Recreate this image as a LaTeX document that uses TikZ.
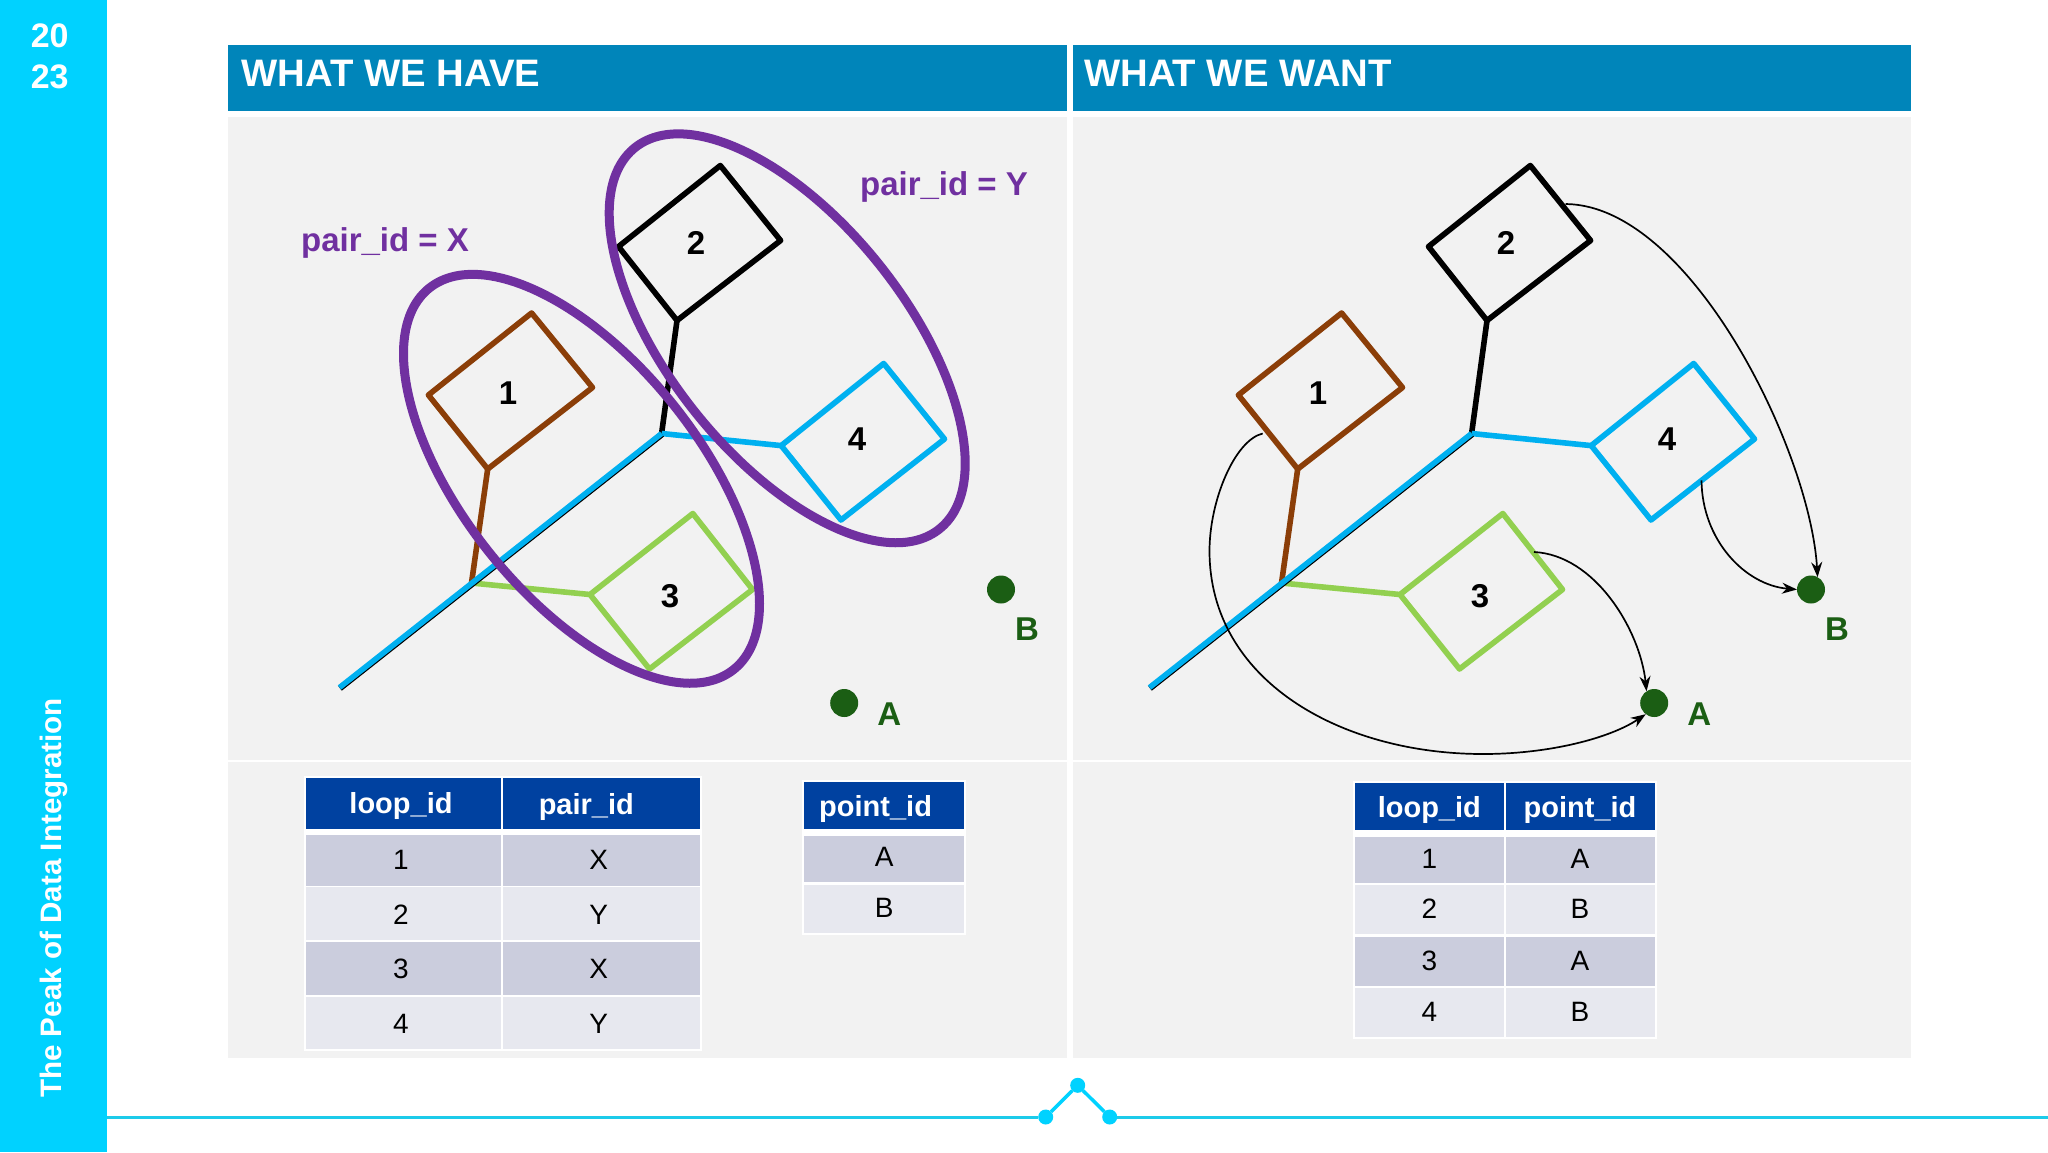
\documentclass[tikz,border=0pt]{standalone}
\usepackage{fontspec}
\setmainfont{Liberation Sans}
\usetikzlibrary{arrows.meta}
\definecolor{side}{HTML}{00D2FF}
\definecolor{bar}{HTML}{0085BA}
\definecolor{panel}{HTML}{F2F2F2}
\definecolor{hdr}{HTML}{0041A0}
\definecolor{rowa}{HTML}{CBCDDD}
\definecolor{rowb}{HTML}{E7E8EF}
\definecolor{rule}{HTML}{1CCBEA}
\definecolor{lbrown}{HTML}{8B3E08}
\definecolor{lgreen}{HTML}{92D050}
\definecolor{lblue}{HTML}{00B0F0}
\definecolor{lpurple}{HTML}{7030A0}
\definecolor{dgreen}{HTML}{1B5E14}
\newcommand\fs[1]{\fontsize{#1}{#1}\selectfont}
\newcommand\tabcell[5]{\fill[#5] (#1,#2) rectangle (#3,#4);}
\newcommand\looptree{%
  \coordinate (a1) at (531.6,313); \coordinate (a2) at (592.5,387.5); \coordinate (a3) at (487.7,469); \coordinate (a4) at (428.4,395);
  \coordinate (b1) at (720.3,165.5); \coordinate (b2) at (780.6,240.5); \coordinate (b3) at (677,320.5); \coordinate (b4) at (618.5,246.6);
  \coordinate (c1) at (692.8,513.5); \coordinate (c2) at (752.5,589.5); \coordinate (c3) at (649.5,669); \coordinate (c4) at (590,594.5);
  \coordinate (d1) at (883.7,363.5); \coordinate (d2) at (944.5,439); \coordinate (d3) at (841,520); \coordinate (d4) at (781.2,445.6);
  \coordinate (start) at (339.5,687.5); \coordinate (j1) at (471.5,583); \coordinate (j2) at (661.6,433.5);
  \draw[wire,lbrown] (a3) -- (j1);
  \draw[wire,black] (b3) -- (j2);
  \draw[wire,lgreen] (j1) -- (c4);
  \draw[wire,lblue] (j2) -- (d4);
  \draw[black,line width=5.5pt,line join=round] ([shift={(0.6,1)}]start) -- ([shift={(0.6,1)}]j2);
  \draw[lblue,line width=5.5pt,line join=round] (start) -- (j2);
  \draw[wire,lbrown] (a1) -- (a2) -- (a3) -- (a4) -- cycle;
  \draw[wire,black] (b1) -- (b2) -- (b3) -- (b4) -- cycle;
  \draw[wire,lgreen] (c1) -- (c2) -- (c3) -- (c4) -- cycle;
  \draw[wire,lblue] (d1) -- (d2) -- (d3) -- (d4) -- cycle;
  \node[digit] (n1) at (508,393) {1};
  \node[digit] (n2) at (696,242.5) {2};
  \node[digit] (n3) at (670,596) {3};
  \node[digit] (n4) at (857,439.5) {4};
  \node[dot] (dotA) at (844.2,703) {};
  \node[dot] (dotB) at (1001,589.5) {};
  \node[ptlabel] (labA) at (889.3,714.5) {A};
  \node[ptlabel] (labB) at (1027,629) {B};
}
\tikzset{
  wire/.style={line width=5.6pt,line join=round},
  digit/.style={font=\fs{33}\bfseries,text=black,inner sep=0pt},
  dot/.style={circle,fill=dgreen,minimum size=28pt,inner sep=0pt,outer sep=0pt},
  ptlabel/.style={font=\fs{33}\bfseries,text=dgreen,inner sep=0pt},
  pairlabel/.style={font=\fs{33}\bfseries,text=lpurple,inner sep=0pt},
  loopring/.style={draw=lpurple,line width=9pt},
  head/.style={font=\fs{38.3}\bfseries,text=white,anchor=west,inner sep=0pt},
  th/.style={font=\fs{29}\bfseries,text=white,inner sep=0pt},
  td/.style={font=\fs{28},text=black,inner sep=0pt},
  arc/.style={black,line width=1.7pt,-{Stealth[length=15pt,width=11pt]}},
  sidetext/.style={font=\fs{34}\bfseries,text=white,inner sep=0pt},
  ruledot/.style={circle,fill=side,minimum size=15pt,inner sep=0pt,outer sep=0pt},
}
\begin{document}
\begin{tikzpicture}[x=1pt,y=-1pt]
\useasboundingbox (0,0) rectangle (2048,1152);
\fill[white] (0,0) rectangle (2048,1152);
% sidebar
\fill[side] (0,0) rectangle (107,1152);
\node[sidetext] (y1) at (49.7,36) {20};
\node[sidetext] (y2) at (49.7,77) {23};
\node[sidetext,font=\fs{29.6}\bfseries,rotate=90] (conf) at (54,898) {The Peak of Data Integration};
% header bars and panels
\fill[bar] (228,44.5) rectangle (1067,111);
\fill[bar] (1073,44.5) rectangle (1911,111);
\node[head] (h1) at (241.5,73.5) {WHAT WE HAVE};
\node[head] (h2) at (1084,73.5) {WHAT WE WANT};
\fill[panel] (228,117) rectangle (1067,759.5);
\fill[panel] (1073,117) rectangle (1911,759.5);
\fill[panel] (228,761.5) rectangle (1067,1058);
\fill[panel] (1073,761.5) rectangle (1911,1058);
% left diagram
\begin{scope}[name prefix=l-]
\looptree
\end{scope}
\draw[loopring,rotate around={-51.4:(581.5,478.8)}] (581.5,478.8) ellipse [x radius=244pt,y radius=118pt];
\draw[loopring,rotate around={-51.4:(787.2,338.3)}] (787.2,338.3) ellipse [x radius=244pt,y radius=118pt];
\node[pairlabel] (px) at (385,243) {pair\_id = X};
\node[pairlabel] (py) at (944,187) {pair\_id = Y};
% right diagram
\begin{scope}[shift={(810,0)},name prefix=r-]
\looptree
\coordinate (s1) at (452.7,433.5);
\coordinate (s2) at (755.5,204);
\coordinate (s3) at (724,552);
\coordinate (s4) at (891.5,480.3);
\end{scope}
\draw[arc] (r-s2) .. controls (1690,205) and (1810,450) .. (r-dotB.62);
\draw[arc] (r-s4) .. controls (1702,540) and (1745,585) .. (r-dotB.west);
\draw[arc] (r-s3) .. controls (1595,555) and (1640,630) .. (r-dotA.123);
\draw[arc] (r-s1) .. controls (1235,440) and (1209.5,500) .. (1209.5,551)
  .. controls (1209.5,680) and (1340,754) .. (1483,754)
  .. controls (1550,754) and (1610,738) .. (r-dotA.233);
% table 1
\fill[white] (303.7,776.3) rectangle (701.6,1051.3);
\tabcell{305.7}{778.3}{501}{828.7}{hdr}
\tabcell{503}{778.3}{699.6}{828.7}{hdr}
\tabcell{305.7}{835}{501}{885.7}{rowa}
\tabcell{503}{835}{699.6}{885.7}{rowa}
\tabcell{305.7}{887.3}{501}{940.3}{rowb}
\tabcell{503}{887.3}{699.6}{940.3}{rowb}
\tabcell{305.7}{942.3}{501}{995}{rowa}
\tabcell{503}{942.3}{699.6}{995}{rowa}
\tabcell{305.7}{996.7}{501}{1049.3}{rowb}
\tabcell{503}{996.7}{699.6}{1049.3}{rowb}
\node[th] (t1h1) at (401,806) {loop\_id};
\node[th] (t1h2) at (586.3,807) {pair\_id};
\node[td] (t1a1) at (401,860) {1};
\node[td] (t1b1) at (598.6,860) {X};
\node[td] (t1a2) at (401,914.5) {2};
\node[td] (t1b2) at (598.6,914.5) {Y};
\node[td] (t1a3) at (401,969) {3};
\node[td] (t1b3) at (598.6,969) {X};
\node[td] (t1a4) at (401,1024) {4};
\node[td] (t1b4) at (598.6,1024) {Y};
% table 2
\fill[white] (802,780.3) rectangle (966.4,935.3);
\tabcell{804}{782.3}{964.4}{829.3}{hdr}
\tabcell{804}{836}{964.4}{882.3}{rowa}
\tabcell{804}{884.7}{964.4}{933.3}{rowb}
\node[th] (t2h) at (875.6,809) {point\_id};
\node[td] (t2a) at (884.3,857.3) {A};
\node[td] (t2b) at (884.3,908) {B};
% table 3
\fill[white] (1353,781.3) rectangle (1657,1038.7);
\tabcell{1355}{783.3}{1504.3}{830}{hdr}
\tabcell{1506}{783.3}{1655}{830}{hdr}
\tabcell{1355}{837.3}{1504.3}{883.3}{rowa}
\tabcell{1506}{837.3}{1655}{883.3}{rowa}
\tabcell{1355}{885.3}{1504.3}{934.3}{rowb}
\tabcell{1506}{885.3}{1655}{934.3}{rowb}
\tabcell{1355}{937}{1504.3}{985.7}{rowa}
\tabcell{1506}{937}{1655}{985.7}{rowa}
\tabcell{1355}{987.7}{1504.3}{1036.7}{rowb}
\tabcell{1506}{987.7}{1655}{1036.7}{rowb}
\node[th] (t3h1) at (1429.3,810) {loop\_id};
\node[th] (t3h2) at (1580,810) {point\_id};
\node[td] (t3a1) at (1429.3,859) {1};
\node[td] (t3b1) at (1580,859) {A};
\node[td] (t3a2) at (1429.3,909) {2};
\node[td] (t3b2) at (1580,909) {B};
\node[td] (t3a3) at (1429.3,961) {3};
\node[td] (t3b3) at (1580,961) {A};
\node[td] (t3a4) at (1429.3,1012) {4};
\node[td] (t3b4) at (1580,1012) {B};
% footer rule
\coordinate (ruleL) at (107,1117);
\coordinate (ruleR) at (2048,1117);
\node[ruledot] (pk1) at (1045.7,1117) {};
\node[ruledot] (pk2) at (1077.7,1085.3) {};
\node[ruledot] (pk3) at (1109.7,1117) {};
\draw[rule,line width=3pt] (ruleL) -- (pk1);
\draw[side,line width=3.5pt] (pk1) -- (pk2) -- (pk3);
\draw[rule,line width=3pt] (pk3) -- (ruleR);
\end{tikzpicture}
\end{document}
